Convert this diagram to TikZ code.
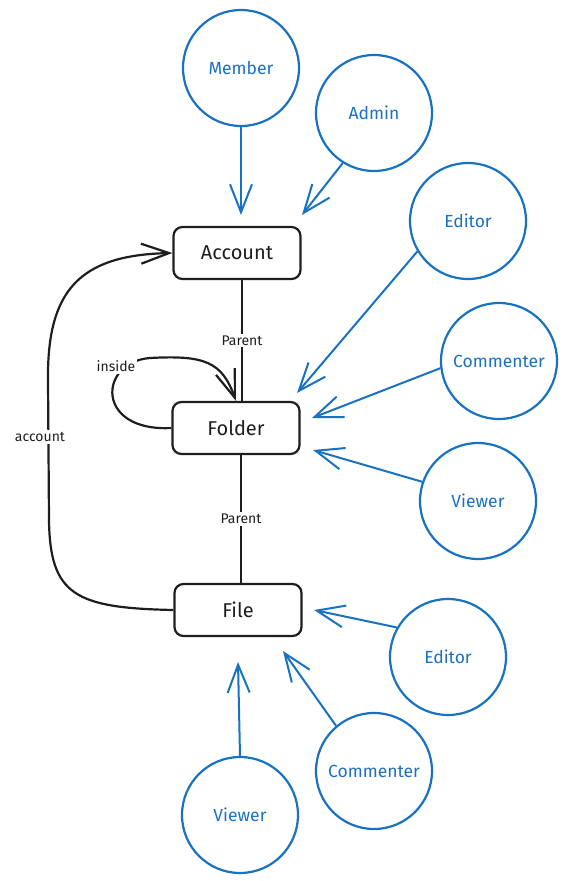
\documentclass[tikz,border=0pt]{standalone}
\usepackage{fontspec}
\setmainfont{Fira Sans}
\usetikzlibrary{arrows.meta}
\definecolor{exblue}{HTML}{1971C2}
\definecolor{exblack}{HTML}{1E1E1E}
\tikzset{
  rolecircle/.style={circle, draw=exblue, line width=2.2pt, minimum size=116pt, inner sep=0pt, text=exblue, font=\fontsize{17.5}{20}\selectfont},
  entitybox/.style={draw=exblack, line width=2.2pt, rounded corners=9pt, minimum width=127pt, minimum height=52pt, text=exblack, font=\fontsize{20}{23}\selectfont},
  bluearrow/.style={draw=exblue, line width=2pt, -{Straight Barb[length=28pt,width=22pt,line width=2pt]}},
  blackarrow/.style={draw=exblack, line width=2.2pt, -{Straight Barb[length=28pt,width=20pt,line width=2.2pt]}},
  blackline/.style={draw=exblack, line width=2.2pt},
  edgelabel/.style={fill=white, inner sep=2pt, text=exblack, font=\fontsize{14}{16}\selectfont}
}
\begin{document}
\begin{tikzpicture}[x=1pt,y=-1pt]
\useasboundingbox (0,0) rectangle (567,881);
% entities
\node[entitybox] (account) at (237,253) {Account};
\node[entitybox] (folder) at (236,428) {Folder};
\node[entitybox] (file) at (238,610) {File};
% roles
\node[rolecircle] (member) at (241,68) {Member};
\node[rolecircle] (admin) at (374,113) {Admin};
\node[rolecircle] (editorA) at (468,221) {Editor};
\node[rolecircle] (commenterA) at (499,361) {Commenter};
\node[rolecircle] (viewerA) at (478,501) {Viewer};
\node[rolecircle] (editorB) at (448,657) {Editor};
\node[rolecircle] (commenterB) at (374,771) {Commenter};
\node[rolecircle] (viewerB) at (240,815) {Viewer};
% arrow end points
\coordinate (eMember) at (241,215);
\coordinate (eAdmin) at (302,215);
\coordinate (eEditorA) at (297,393);
\coordinate (eCommenterA) at (312,418);
\coordinate (eViewerA) at (313,450);
\coordinate (eEditorB) at (314,610);
\coordinate (eCommenterB) at (283,651);
\coordinate (eViewerB) at (238,662);
% blue arrows
\draw[bluearrow] (member.270) -- (eMember);
\draw[bluearrow] (admin.238) -- (eAdmin);
\draw[bluearrow] (editorA.211) -- (eEditorA);
\draw[bluearrow] (commenterA.187) -- (eCommenterA);
\draw[bluearrow] (viewerA.161) -- (eViewerA);
\draw[bluearrow] (editorB.150) -- (eEditorB);
\draw[bluearrow] (commenterB.130) -- (eCommenterB);
\draw[bluearrow] (viewerB.90) -- (eViewerB);
% parent links
\draw[blackline] ([xshift=5pt]account.south) -- node[edgelabel, pos=0.5] (p1) {Parent} ([xshift=6pt]folder.north);
\draw[blackline] ([xshift=5pt]folder.south) -- node[edgelabel, pos=0.5] (p2) {Parent} ([xshift=3pt]file.north);
% account link
\draw[blackarrow] (file.west) .. controls (75,608) and (50,595) .. (49,520) -- (48,380) .. controls (47,290) and (80,255) .. (account.west);
\node[edgelabel] (acclabel) at (40,437) {account};
% inside loop
\draw[blackarrow] (folder.west) .. controls (95,432) and (98,362) .. (150,358) .. controls (205,355) and (222,362) .. (folder.north);
\node[edgelabel] (inlabel) at (116,366) {inside};
\end{tikzpicture}
\end{document}
